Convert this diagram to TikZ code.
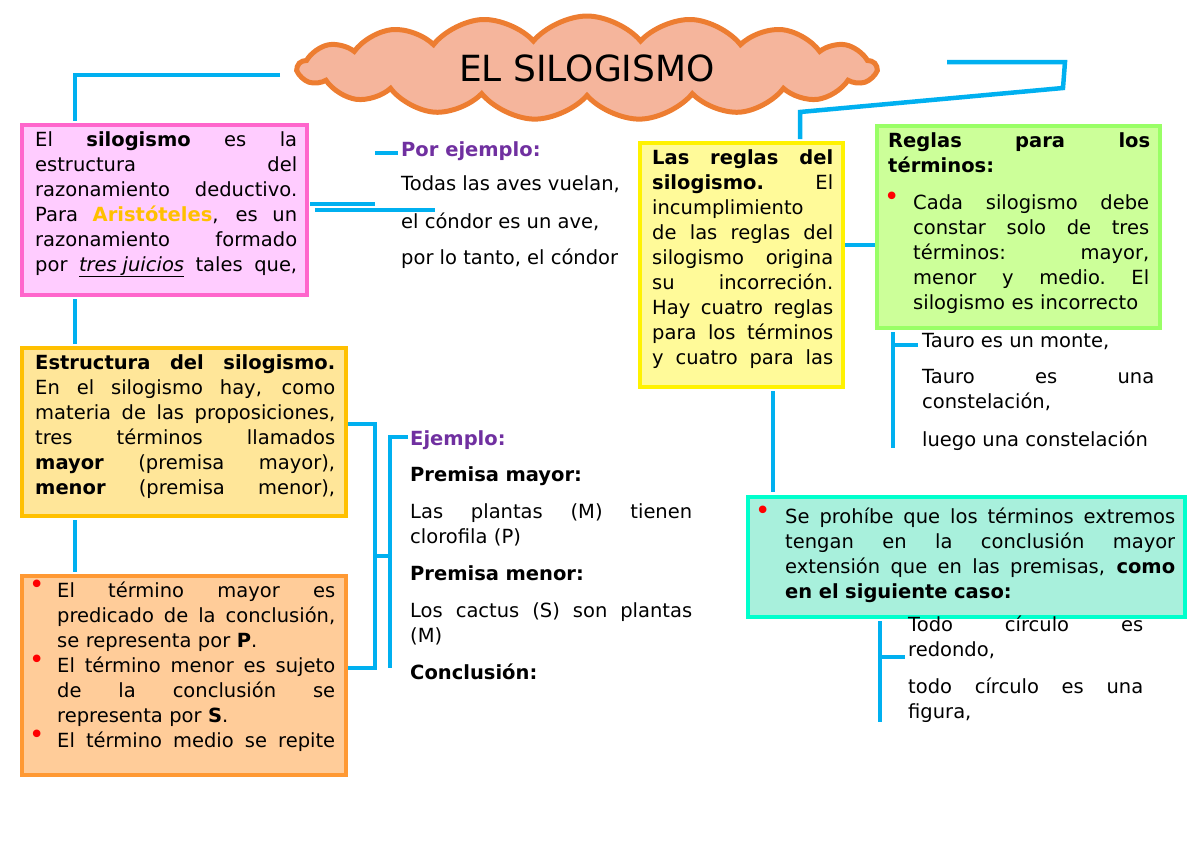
\documentclass[tikz,border=0pt]{standalone}
\usepackage{fontspec}
\setmainfont{DejaVu Sans}
\usetikzlibrary{shapes.symbols, positioning}

\definecolor{linkblue}{HTML}{00B0F0}
\definecolor{cloudfill}{HTML}{F5B59C}
\definecolor{cloudline}{HTML}{ED7D31}
\definecolor{purp}{HTML}{7030A0}
\definecolor{aristo}{HTML}{FFC000}

\newcommand{\jline}[1]{\hbox to \hsize{\spaceskip=.3em plus 1fil\relax\xspaceskip=.3em plus 1fil\relax #1}}
\newcommand{\bul}{\textcolor{red}{\fontsize{26}{25}\selectfont\textbullet}}

\begin{document}
\begin{tikzpicture}[x=1pt, y=-1pt,
    link/.style={linkblue, line width=4.5pt},
    box/.style={line width=4pt},
    txt/.style={anchor=north west, inner sep=0pt, align=left,
                font=\fontsize{19.5}{25}\selectfont}]

    \useasboundingbox (0,0) rectangle (1200,849);

    % title cloud
    \node[cloud, cloud puffs=17, cloud puff arc=100, aspect=5.5, minimum width=578, minimum height=104,
          fill=cloudfill, draw=cloudline, line width=5pt,
          font=\fontsize{36}{40}\selectfont] (title) at (587,68) {EL SILOGISMO};

    % left column boxes
    \draw[box, draw={rgb,255:red,255;green,102;blue,204}, fill={rgb,255:red,255;green,204;blue,255}] (22,125) rectangle (307,295);
    \draw[box, draw=aristo, fill=aristo!40] (22,348) rectangle (346,516);
    \draw[box, draw=orange!80, fill=orange!40] (22,576) rectangle (346,775);

    % right boxes
    \draw[box, draw=yellow, fill=yellow!40] (640,143) rectangle (843,387);
    \draw[box, draw={rgb,255:red,153;green,255;blue,102}, fill={rgb,255:red,204;green,255;blue,153}] (877,126) rectangle (1160,328);
    \draw[box, draw={rgb,255:red,0;green,255;blue,204}, fill={rgb,255:red,168;green,240;blue,220}] (748,497) rectangle (1185,617);

    % connectors
    \draw[link] (280,75) -- (75,75) -- (75,121);
    \draw[link] (75,299) -- (75,344);
    \draw[link] (75,520) -- (75,572);
    \draw[link] (310,204) -- (375,204);
    \draw[link] (315,210) -- (435,210);
    \draw[link] (375,153) -- (398,153);
    \draw[link] (348,424) -- (375,424) -- (375,668) -- (348,668);
    \draw[link] (408,437) -- (390,437) -- (390,668);
    \draw[link] (375,556) -- (390,556);
    \draw[link] (947,62) -- (1065,62) -- (1063,88) -- (800,112) -- (800,139);
    \draw[link] (845,245) -- (875,245);
    \draw[link] (893,332) -- (893,448);
    \draw[link] (893,345) -- (918,345);
    \draw[link] (773,391) -- (773,492);
    \draw[link] (880,621) -- (880,722);
    \draw[link] (880,657) -- (905,657);

    % pink box text
    \node[txt, text width=262] (def) at (35,131) {%
      \jline{El \textbf{silogismo} es la}
      \jline{estructura del}
      \jline{razonamiento deductivo.}
      \jline{Para \textcolor{aristo}{\textbf{Aristóteles}}, es un}
      \jline{razonamiento formado}
      \jline{por \underline{\textit{tres juicios}} tales que,}};

    % example 1
    \node[txt, text=purp, font=\bfseries\fontsize{19.5}{25}\selectfont] (ej1) at (401,141) {Por ejemplo:};
    \node[txt] (ej1a) at (401,175) {Todas las aves vuelan,};
    \node[txt] (ej1b) at (401,213) {el cóndor es un ave,};
    \node[txt] (ej1c) at (401,249) {por lo tanto, el cóndor};

    % structure box text
    \node[txt, text width=300] (estr) at (35,354) {%
      \jline{\textbf{Estructura del silogismo.}}
      \jline{En el silogismo hay, como}
      \jline{materia de las proposiciones,}
      \jline{tres términos llamados}
      \jline{\textbf{mayor} (premisa mayor),}
      \jline{\textbf{menor} (premisa menor),}};

    % example 2
    \node[txt, text=purp, font=\bfseries\fontsize{19.5}{25}\selectfont] (ej2) at (410,430) {Ejemplo:};
    \node[txt, text width=282] (ej2t) at (410,466) {%
      \textbf{Premisa mayor:}\\[12pt]
      \jline{Las plantas (M) tienen}
      clorofila (P)\\[12pt]
      \textbf{Premisa menor:}\\[12pt]
      \jline{Los cactus (S) son plantas}
      (M)\\[12pt]
      \textbf{Conclusión:}};

    % terms bullets
    \node[txt] (b1) at (29,580) {\bul};
    \node[txt, text width=278] (t1) at (57,582) {%
      \jline{El término mayor es}
      \jline{predicado de la conclusión,}
      se representa por \textbf{P}.};
    \node[txt] (b2) at (29,655) {\bul};
    \node[txt, text width=278] (t2) at (57,657) {%
      \jline{El término menor es sujeto}
      \jline{de la conclusión se}
      representa por \textbf{S}.};
    \node[txt] (b3) at (29,730) {\bul};
    \node[txt, text width=278] (t3) at (57,732) {%
      \jline{El término medio se repite}};

    % rules box text
    \node[txt, text width=181] (reglas) at (652,149) {%
      \jline{\textbf{Las reglas del}}
      \jline{\textbf{silogismo.} El}
      incumplimiento\\
      \jline{de las reglas del}
      \jline{silogismo origina}
      \jline{su incorreción.}
      \jline{Hay cuatro reglas}
      \jline{para los términos}
      \jline{y cuatro para las}};

    % terms rules text
    \node[txt, text width=262] (rt) at (888,132) {%
      \jline{\textbf{Reglas para los}}
      \textbf{términos:}};
    \node[txt] (b4) at (884,192) {\bul};
    \node[txt, text width=236] (rtb) at (913,194) {%
      \jline{Cada silogismo debe}
      \jline{constar solo de tres}
      \jline{términos: mayor,}
      \jline{menor y medio. El}
      silogismo es incorrecto};

    % Tauro example
    \node[txt] (ta) at (922,333) {Tauro es un monte,};
    \node[txt, text width=232] (tb) at (922,369) {%
      \jline{Tauro es una}
      constelación,};
    \node[txt] (tc) at (922,431) {luego una constelación};

    % prohibition box text
    \node[txt] (b5) at (755,506) {\bul};
    \node[txt, text width=390] (pr) at (785,508) {%
      \jline{Se prohíbe que los términos extremos}
      \jline{tengan en la conclusión mayor}
      \jline{extensión que en las premisas, \textbf{como}}
      \textbf{en el siguiente caso:}};

    % circle example
    \node[txt, text width=235] (ca) at (908,616) {%
      \jline{Todo círculo es}
      redondo,\\[12pt]
      \jline{todo círculo es una}
      figura,};
\end{tikzpicture}
\end{document}
